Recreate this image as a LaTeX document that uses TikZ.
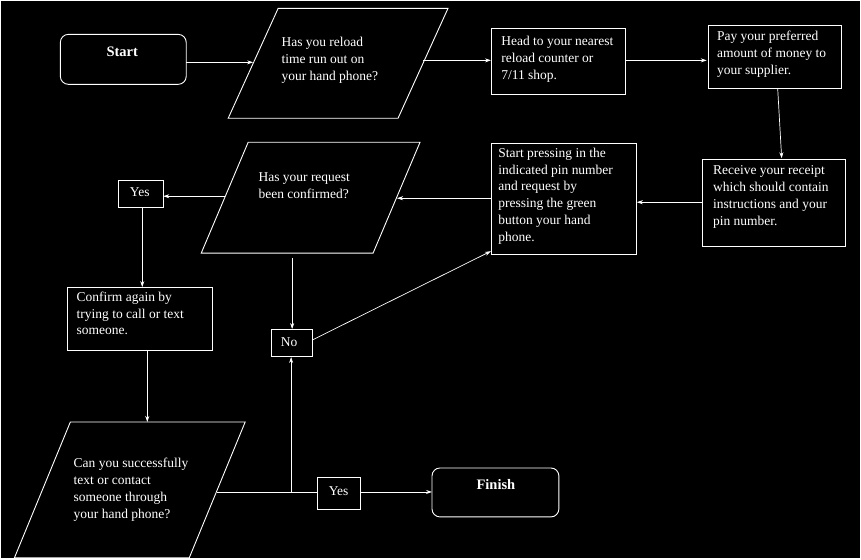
\documentclass[tikz,border=0pt]{standalone}
\usepackage{fontspec}
\setmainfont{Liberation Serif}
\usetikzlibrary{arrows.meta}
\begin{document}
\begin{tikzpicture}[x=1pt,y=-1pt,
  every path/.style={draw=white,line width=0.8pt},
  box/.style={draw=white,line width=0.9pt},
  txt/.style={text=white,font=\fontsize{13.5}{17}\selectfont,align=left,anchor=north west,inner sep=0pt},
  arr/.style={draw=white,line width=0.7pt,-{Stealth[length=6pt,width=4pt]}}]
\fill[black] (0,0) rectangle (861,559);
\useasboundingbox (0,0) rectangle (861,559);
% Start
\draw[box,rounded corners=8pt] (60,34) rectangle (186,84);
\node[txt,font=\fontsize{14.5}{16}\selectfont\bfseries,anchor=center] (start) at (122,51) {Start};
\coordinate (startR) at (186,62);
% para1
\draw[box] (278,8) -- (448,8) -- (398,118) -- (228,118) -- cycle;
\node[txt] (p1) at (281,36) {Has you reload\\time run out on\\your hand phone?};
\coordinate (p1L) at (253,62); \coordinate (p1R) at (423,60);
% Head
\draw[box] (491,28) rectangle (626,94);
\node[txt] (head) at (501,35) {Head to your nearest\\reload counter or\\7/11 shop.};
\coordinate (headL) at (491,60); \coordinate (headR) at (626,60);
% Pay
\draw[box] (709,25) rectangle (842,88);
\node[txt] (pay) at (717,30) {Pay your preferred\\amount of money to\\your supplier.};
\coordinate (payL) at (707,60); \coordinate (payB) at (778,88);
% Receive
\draw[box] (703,159) rectangle (846,246);
\node[txt] (rec) at (713,165) {Receive your receipt\\which should contain\\instructions and your\\pin number.};
\coordinate (recT) at (782,158); \coordinate (recL) at (703,202);
% Start pressing
\draw[box] (491,143) rectangle (637,254);
\node[txt] (sp) at (498,147) {Start pressing in the\\indicated pin number\\and request by\\pressing the green\\button your hand\\phone.};
\coordinate (spR) at (637,202); \coordinate (spL) at (491,198); \coordinate (spB) at (491,251);
% para2
\draw[box] (248,142) -- (420,142) -- (373,253) -- (201,253) -- cycle;
\node[txt] (p2) at (258,172) {Has your request\\been confirmed?};
\coordinate (p2R) at (397,198); \coordinate (p2L) at (225,196); \coordinate (p2B) at (292,258);
% Yes1
\draw[box] (118,180) rectangle (163,207);
\node[txt,anchor=center] (yes1) at (139.5,192) {Yes};
\coordinate (y1R) at (163,196); \coordinate (y1B) at (142,207);
% Confirm
\draw[box] (67,287) rectangle (212,350);
\node[txt] (conf) at (76,291) {Confirm again by\\trying to call or text\\someone.};
\coordinate (confT) at (142,287); \coordinate (confB) at (147,350);
% para3
\draw[box] (70,422) -- (245,422) -- (189,558) -- (14,558) -- cycle;
\node[txt] (p3) at (73,458) {Can you successfully\\text or contact\\someone through\\your hand phone?};
\coordinate (p3T) at (147,422); \coordinate (p3R) at (217,492);
% Yes2
\draw[box] (317,477) rectangle (360,510);
\node[txt,anchor=center] (yes2) at (338.5,491) {Yes};
\coordinate (y2L) at (317,492); \coordinate (y2R) at (360,492);
% Finish
\draw[box,rounded corners=8pt] (432,468) rectangle (559,517);
\node[txt,font=\fontsize{14.5}{16}\selectfont\bfseries,anchor=center] (fin) at (496,485) {Finish};
\coordinate (finL) at (432,492);
% No
\draw[box] (271,329) rectangle (312,356);
\node[txt,anchor=center] (no) at (289,342) {No};
\coordinate (noT) at (292,329); \coordinate (noB) at (291,357); \coordinate (noR) at (312,340);
\coordinate (jn) at (291,492);
% arrows
\draw[arr] (startR) -- (p1L);
\draw[arr] (p1R) -- (headL);
\draw[arr] (headR) -- (payL);
\draw[arr] (payB) -- (recT);
\draw[arr] (recL) -- (spR);
\draw[arr] (spL) -- (p2R);
\draw[arr] (p2L) -- (y1R);
\draw[arr] (y1B) -- (confT);
\draw[arr] (confB) -- (p3T);
\draw (p3R) -- (y2L);
\draw[arr] (y2R) -- (finL);
\draw[arr] (jn) -- (noB);
\draw[arr] (p2B) -- (noT);
\draw[arr] (noR) -- (spB);
\end{tikzpicture}
\end{document}
